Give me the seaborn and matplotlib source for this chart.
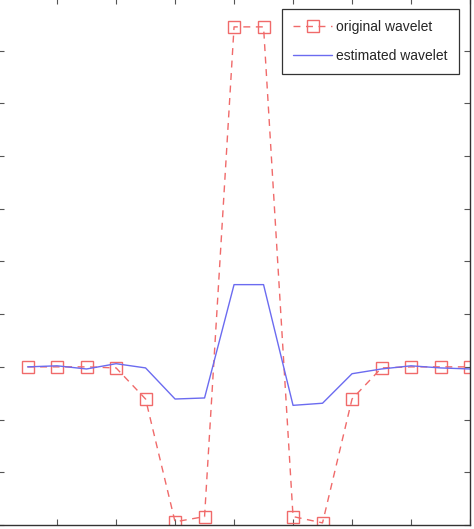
import numpy as np
import pandas as pd
import matplotlib
matplotlib.use("Agg")
import matplotlib.pyplot as plt
import seaborn as sns

# samples 1..16
sample = list(range(1, 17))
original = [0.0, 0.0, 0.0, -0.002, -0.061, -0.294, -0.284, 0.645,
            0.645, -0.284, -0.296, -0.061, -0.002, 0.0, 0.0, 0.0]
estimated = [0.0, 0.002, -0.004, 0.006, -0.002, -0.061, -0.059, 0.156,
             0.156, -0.073, -0.069, -0.013, -0.004, 0.002, -0.002, -0.004]
labels = ["original wavelet", "estimated wavelet"]

sns.set_style("white")
plt.rcParams['font.family'] = ['Liberation Sans Narrow', 'Liberation Sans', 'DejaVu Sans']

df = pd.DataFrame({"sample": sample, "original": original, "estimated": estimated})

fig = plt.figure(figsize=(4.74, 5.29), dpi=100)
# axes box runs slightly past the left and top edges, as in the cropped original
ax = fig.add_axes([-0.004, 4 / 529, 470 / 474 + 0.004, 525 / 529 + 0.004])

red = "#f06a6a"
blue = "#6b6bf0"
sns.lineplot(data=df, x="sample", y="original", ax=ax, color=red, lw=1.0,
             ls=(0, (5, 4)), marker="s", markersize=9, markerfacecolor="none",
             markeredgecolor=red, markeredgewidth=1.0, label=labels[0])
sns.lineplot(data=df, x="sample", y="estimated", ax=ax, color=blue, lw=1.0,
             label=labels[1])

ax.set_xlim(0, 16)
ax.set_ylim(-0.3, 0.7)
ax.set_xticks(np.arange(2, 17, 2))
ax.set_yticks(np.arange(-0.3, 0.71, 0.1))
ax.set_xticklabels([])
ax.set_yticklabels([])
ax.set_xlabel("")
ax.set_ylabel("")
ax.tick_params(direction="in", length=4, width=0.8, color="#555555",
               top=True, right=True, bottom=True, left=True)
for s in ax.spines.values():
    s.set_color("#333333")
    s.set_linewidth(1.0)

leg = ax.legend(loc="upper right", fontsize=10, numpoints=1, fancybox=False,
                framealpha=1, edgecolor="#333333", handlelength=2.8,
                handletextpad=0.3, labelspacing=1.05, borderpad=0.8,
                borderaxespad=0.8)
leg.get_frame().set_linewidth(0.9)

fig.savefig("out.png", dpi=100)
